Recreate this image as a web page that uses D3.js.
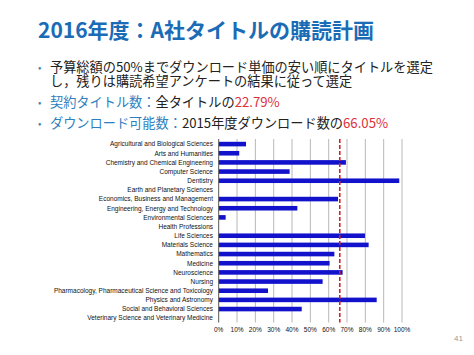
<!DOCTYPE html>
<html><head><meta charset="utf-8">
<script src="https://cdn.jsdelivr.net/npm/d3@7/dist/d3.min.js"></script>
<style>
body{margin:0;background:#fff;}
svg{display:block;}
</style></head>
<body>
<svg id="c" width="474" height="355"></svg>
<script>
const categories = [
  "Agricultural and Biological Sciences",
  "Arts and Humanities",
  "Chemistry and Chemical Engineering",
  "Computer Science",
  "Dentistry",
  "Earth and Planetary Sciences",
  "Economics, Business and Management",
  "Engineering, Energy and Technology",
  "Environmental Sciences",
  "Health Professions",
  "Life Sciences",
  "Materials Science",
  "Mathematics",
  "Medicine",
  "Neuroscience",
  "Nursing",
  "Pharmacology, Pharmaceutical Science and Toxicology",
  "Physics and Astronomy",
  "Social and Behavioral Sciences",
  "Veterinary Science and Veterinary Medicine"
];
const values = [0.149, 0.112, 0.694, 0.387, 0.985, 0, 0.651, 0.429, 0.038, 0, 0.798, 0.818, 0.631, 0.605, 0.676, 0.567, 0.269, 0.862, 0.453, 0];
const refValue = 0.6605;
const xTicks = [0,0.1,0.2,0.3,0.4,0.5,0.6,0.7,0.8,0.9,1.0];

(function(){
const svg = d3.select("#c");
const FONT = "'Liberation Sans', Arial, sans-serif";
const JP = "'Noto Sans CJK JP', 'Noto Sans', sans-serif";

// Title
svg.append("text").attr("x",38).attr("y",38)
  .attr("font-family",JP).attr("font-weight","bold").attr("font-size",21)
  .attr("fill","#1a6cb6").text("2016年度：A社タイトルの購読計画");

// Bullets
const bullets = [
  {y:72, parts:[["予算総額の50%までダウンロード単価の安い順にタイトルを選定","#222"]], bullet:true},
  {y:86, parts:[["し，残りは購読希望アンケートの結果に従って選定","#222"]], bullet:false},
  {y:106.5, parts:[["契約タイトル数：","#2f7fc0"],["全タイトルの","#222"],["22.79%","#e0303a"]], bullet:true},
  {y:128, parts:[["ダウンロード可能数：","#2f7fc0"],["2015年度ダウンロード数の","#222"],["66.05%","#e0303a"]], bullet:true}
];
bullets.forEach(b=>{
  if(b.bullet){
    svg.append("text").attr("x",38).attr("y",b.y-1).attr("font-family",JP)
      .attr("font-size",10).attr("fill","#4a7fb0").text("•");
  }
  const t = svg.append("text").attr("x",50).attr("y",b.y)
    .attr("font-family",JP).attr("font-size",13.2);
  b.parts.forEach(p=>t.append("tspan").attr("fill",p[1]).text(p[0]));
});

// Chart
const x = d3.scaleLinear().domain([0,1]).range([218.7,402]);
const y = d3.scaleBand().domain(categories).range([139.5,322.8]).paddingInner(0.5).paddingOuter(0.25);
const gTop = 139, gBottom = 322.5;

svg.append("g").selectAll("line").data(xTicks.slice(1)).join("line")
  .attr("x1",d=>x(d)).attr("x2",d=>x(d)).attr("y1",gTop).attr("y2",gBottom)
  .attr("stroke","#b8b8b8").attr("stroke-width",1);

svg.append("g").selectAll("rect").data(values).join("rect")
  .attr("x",x(0)).attr("y",(d,i)=>y(categories[i]))
  .attr("width",d=>x(d)-x(0)).attr("height",y.bandwidth())
  .attr("fill","#1212cc");

svg.append("line").attr("x1",x(0)).attr("x2",x(0)).attr("y1",gTop).attr("y2",gBottom)
  .attr("stroke","#555").attr("stroke-width",1);

svg.append("g").selectAll("text").data(categories).join("text")
  .attr("x",213).attr("y",d=>y(d)+y.bandwidth()/2).attr("dy","0.35em")
  .attr("text-anchor","end").attr("font-family",FONT).attr("font-size",6.5)
  .attr("fill","#111").text(d=>d);

svg.append("g").selectAll("text").data(xTicks).join("text")
  .attr("x",d=>x(d)).attr("y",330).attr("dy","0.35em")
  .attr("text-anchor","middle").attr("font-family",FONT).attr("font-size",6.5)
  .attr("fill","#111").text(d=>d3.format(".0%")(d));

svg.append("line").attr("x1",x(refValue)).attr("x2",x(refValue))
  .attr("y1",gTop).attr("y2",gBottom)
  .attr("stroke","#d42020").attr("stroke-width",1.6).attr("stroke-dasharray","4,2");

svg.append("text").attr("x",463).attr("y",341).attr("text-anchor","end")
  .attr("font-family",FONT).attr("font-size",8).attr("fill","#999").text("41");
})();
</script>
</body></html>
